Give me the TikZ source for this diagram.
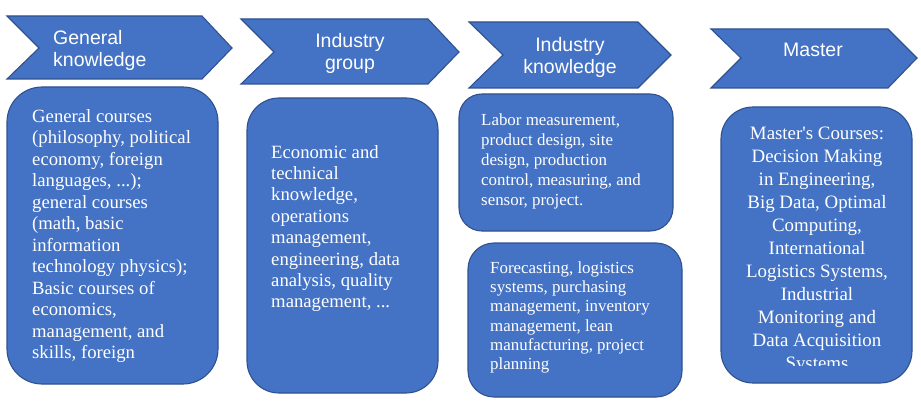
\documentclass[tikz,border=0pt]{standalone}
\usepackage{fontspec}
\setmainfont{Liberation Serif}
\newfontfamily\arialf{Liberation Sans}
\definecolor{boxfill}{HTML}{4472C4}
\definecolor{boxline}{HTML}{2F528F}
\tikzset{
  shapeline/.style={fill=boxfill, draw=boxline, line width=1.1pt, line join=miter},
  headtext/.style={text=white, inner sep=0pt, align=center, font=\arialf\fontsize{19.5}{22}\selectfont},
  bodytext/.style={text=white, inner sep=0pt, align=left},
}
\begin{document}
\begin{tikzpicture}[x=1pt,y=-1pt]
\useasboundingbox (0,0) rectangle (921,401);
% chevrons
\draw[shapeline] (7,16) -- (202,16) -- (232,48) -- (202,79) -- (7,79) -- (39,48) -- cycle;
\draw[shapeline] (241,19) -- (428,19) -- (459,52) -- (428,84) -- (241,84) -- (274,52) -- cycle;
\draw[shapeline] (469,22) -- (638,22) -- (671,55) -- (638,88) -- (469,88) -- (503,55) -- cycle;
\draw[shapeline] (711,29) -- (888,29) -- (917,58) -- (888,88) -- (711,88) -- (741,58) -- cycle;
\node[headtext, align=left, anchor=north west] (h1) at (53,30) {General\\knowledge};
\node[headtext, anchor=north] (h2) at (350,33) {Industry\\group};
\node[headtext, anchor=north] (h3) at (570,37) {Industry\\knowledge};
\node[headtext, anchor=north] (h4) at (813,43) {Master};
% boxes
\draw[shapeline, rounded corners=35pt] (7,87) rectangle (218,384);
\draw[shapeline, rounded corners=32pt] (247,98) rectangle (438,393);
\draw[shapeline, rounded corners=23pt] (459,94) rectangle (673,231);
\draw[shapeline, rounded corners=26pt] (468,243) rectangle (682,397);
\draw[shapeline, rounded corners=32pt] (721,107) rectangle (912,383);
\node[bodytext, anchor=north west, font=\fontsize{18.7}{21.5}\selectfont] (b1) at (32,109)
 {General courses\\(philosophy, political\\economy, foreign\\languages, ...);\\general courses\\(math, basic\\information\\technology physics);\\Basic courses of\\economics,\\management, and\\skills, foreign};
\node[bodytext, anchor=north west, font=\fontsize{18.7}{21.4}\selectfont] (b2) at (271,145)
 {Economic and\\technical\\knowledge,\\operations\\management,\\engineering, data\\analysis, quality\\management, ...};
\node[bodytext, anchor=north west, font=\fontsize{16.9}{20}\selectfont] (b3) at (481,113.5)
 {Labor measurement,\\product design, site\\design, production\\control, measuring, and\\sensor, project.};
\node[bodytext, anchor=north west, font=\fontsize{16.9}{19.2}\selectfont] (b4) at (490,261.5)
 {Forecasting, logistics\\systems, purchasing\\management, inventory\\management, lean\\manufacturing, project\\planning};
\begin{scope}
\clip (721,100) rectangle (912,365);
\node[bodytext, align=center, anchor=north, font=\fontsize{18.9}{23}\selectfont] (b5) at (817,127)
 {Master\textquotesingle s Courses:\\Decision Making\\in Engineering,\\Big Data, Optimal\\Computing,\\International\\Logistics Systems,\\Industrial\\Monitoring and\\Data Acquisition\\Systems};
\end{scope}
\end{tikzpicture}
\end{document}
